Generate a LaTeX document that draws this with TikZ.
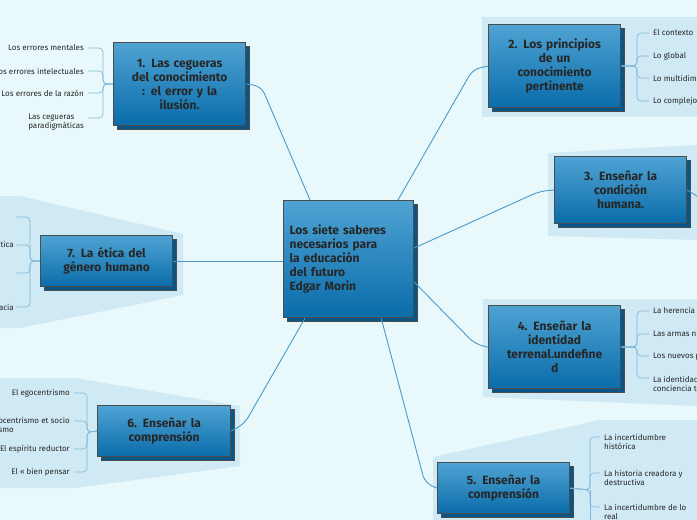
\documentclass[tikz,border=0pt]{standalone}
\usepackage{fontspec}
\setmainfont{Fira Sans}
\usetikzlibrary{shadows,calc}
\definecolor{bg}{HTML}{E9F9FB}
\definecolor{panel}{HTML}{CFEAF5}
\definecolor{ln}{HTML}{4A9ACB}
\definecolor{bt}{HTML}{4FA3D3}
\definecolor{bb}{HTML}{0A6CAA}
\tikzset{
 box/.style={draw=black!70,line width=1.2pt,top color=bt,bottom color=bb,
  copy shadow={shadow xshift=4pt,shadow yshift=-4pt,fill=bb!80!black,draw=black!70,line width=1.2pt},
  font=\bfseries\fontsize{12}{14}\selectfont,align=center,inner sep=0pt,text=black!85},
 conn/.style={draw=ln,line width=0.9pt},
 lconn/.style={draw=ln!70,line width=0.7pt,rounded corners=4},
 lf/.style={font=\fontsize{8}{9}\selectfont,inner sep=0pt,align=left,text=black!85},
 lfr/.style={lf,anchor=east},
 lfl/.style={lf,anchor=west},
}
\begin{document}
\begin{tikzpicture}[x=1pt,y=-1pt]
\clip (0,0) rectangle (697,520);
\fill[bg] (0,0) rectangle (697,520);
% panels
\fill[panel] (482,17) rectangle (697,117);
\fill[panel] (548,153) -- (697,145) -- (697,240) -- (548,236) -- cycle;
\fill[panel] (483,299) -- (697,299) -- (697,406) -- (483,397) -- cycle;
\fill[panel] (433,457) -- (600,420) -- (697,420) -- (697,520) -- (433,520) -- cycle;
\fill[panel] (0,378) -- (75,378) -- (240,406) -- (240,466) -- (75,488) -- (0,488) -- cycle;
\fill[panel] (0,196) -- (20,196) -- (183,234) -- (183,295) -- (20,328) -- (0,328) -- cycle;
% boxes
\node[box,minimum width=130,minimum height=117,anchor=north west,align=left,text width=118] (c) at (283,200) {Los siete saberes\\ necesarios para\\ la educación\\ del futuro\\ Edgar Morin};
\node[box,minimum width=132,minimum height=83,anchor=north west,text width=125] (n1) at (113,42) {1. Las cegueras\\ del conocimiento\\ : el error y la\\ ilusión.};
\node[box,minimum width=132,minimum height=83,anchor=north west,text width=125] (n2) at (488,24) {2. Los principios\\ de un\\ conocimiento\\ pertinente};
\node[box,minimum width=132,minimum height=67,anchor=north west,text width=125] (n3) at (554,156) {3. Enseñar la\\ condición\\ humana.};
\node[box,minimum width=132,minimum height=83,anchor=north west,text width=125] (n4) at (488,305) {4. Enseñar la\\ identidad\\ terrenal.undefine\\ d};
\node[box,minimum width=132,minimum height=51,anchor=north west,text width=125] (n5) at (437,462) {5. Enseñar la\\ comprensión};
\node[box,minimum width=133,minimum height=51,anchor=north west,text width=125] (n6) at (97,405) {6. Enseñar la\\ comprensión};
\node[box,minimum width=132,minimum height=51,anchor=north west,text width=125] (n7) at (40,235) {7. La ética del\\ género humano};
% connectors
\draw[conn,rounded corners=8] (n1.east) -- ++(15,2) -- ([xshift=27]c.north west);
\draw[conn,rounded corners=8] (n2.west) -- ++(-15,3) -- ([xshift=115]c.north west);
\draw[conn,rounded corners=8] (n3.west) -- ++(-14,1) -- ([yshift=-48]c.north east);
\draw[conn,rounded corners=8] (n4.west) -- ++(-13,-3) -- ([yshift=-82]c.north east);
\draw[conn,rounded corners=8] (n5.west) -- ++(-12,-5) -- ([xshift=-33]c.south east);
\draw[conn,rounded corners=8] (n6.east) -- ++(13,-7) -- ([xshift=22]c.south west);
\draw[conn] (n7.east) -- (c.west |- n7.east);
\draw[conn] (n3.east) -- (697,196);
% leaves 1
\foreach \y/\t in {48/Los errores mentales,71/Los errores intelectuales,93/Los errores de la razón}
 {\node[lfr] at (84,\y) {\t}; \draw[lconn] (n1.west) -- (103,84) -- (103,\y) -- (88,\y);}
\node[lfr,align=left] at (84,122) {Las cegueras\\paradigmáticas};
\draw[lconn] (n1.west) -- (103,84) -- (103,118) -- (88,118);
% leaves 2
\foreach \y/\t in {33/El contexto,56/Lo global,78/Lo multidimensional,101/Lo complejo}
 {\node[lfl] at (653,\y) {\t}; \draw[lconn] (n2.east) -- (637,66) -- (637,\y) -- (649,\y);}
% leaves 4
\foreach \y/\t in {311/La herencia del siglo XX,334/Las armas nucleares,356/Los nuevos peligros}
 {\node[lfl] at (653,\y) {\t}; \draw[lconn] (n4.east) -- (637,347) -- (637,\y) -- (649,\y);}
\node[lfl] at (653,384) {La identidad y la\\conciencia terrenal};
\draw[lconn] (n4.east) -- (637,347) -- (637,378) -- (649,378);
% leaves 5
\foreach \y/\t in {437/La incertidumbre\\histórica,473/La historia creadora y\\destructiva,507/La incertidumbre de lo\\real}
 {\node[lfl] at (604,\y+5) {\t}; \draw[lconn] (n5.east) -- (590,490) -- (590,\y) -- (600,\y);}
\draw[lconn] (590,490) -- (590,520);
% leaves 6
\foreach \y/\t in {393/El egocentrismo,449/El espíritu reductor,472/El « bien pensar}
 {\node[lfr] at (70,\y) {\t}; \draw[lconn] (n6.west) -- (87,432) -- (87,\y) -- (74,\y);}
\node[lfr,align=left] at (70,425) {El etnocentrismo et socio\\centrismo};
\draw[lconn] (n6.west) -- (87,432) -- (87,421) -- (74,421);
% leaves 7
\node[lfr] at (14,245) {La antropoética};
\node[lfr] at (14,307) {La democracia};
\foreach \y in {217,245,273,307}
 {\draw[lconn] (n7.west) -- (30,261) -- (30,\y) -- (16,\y);}
\end{tikzpicture}
\end{document}
